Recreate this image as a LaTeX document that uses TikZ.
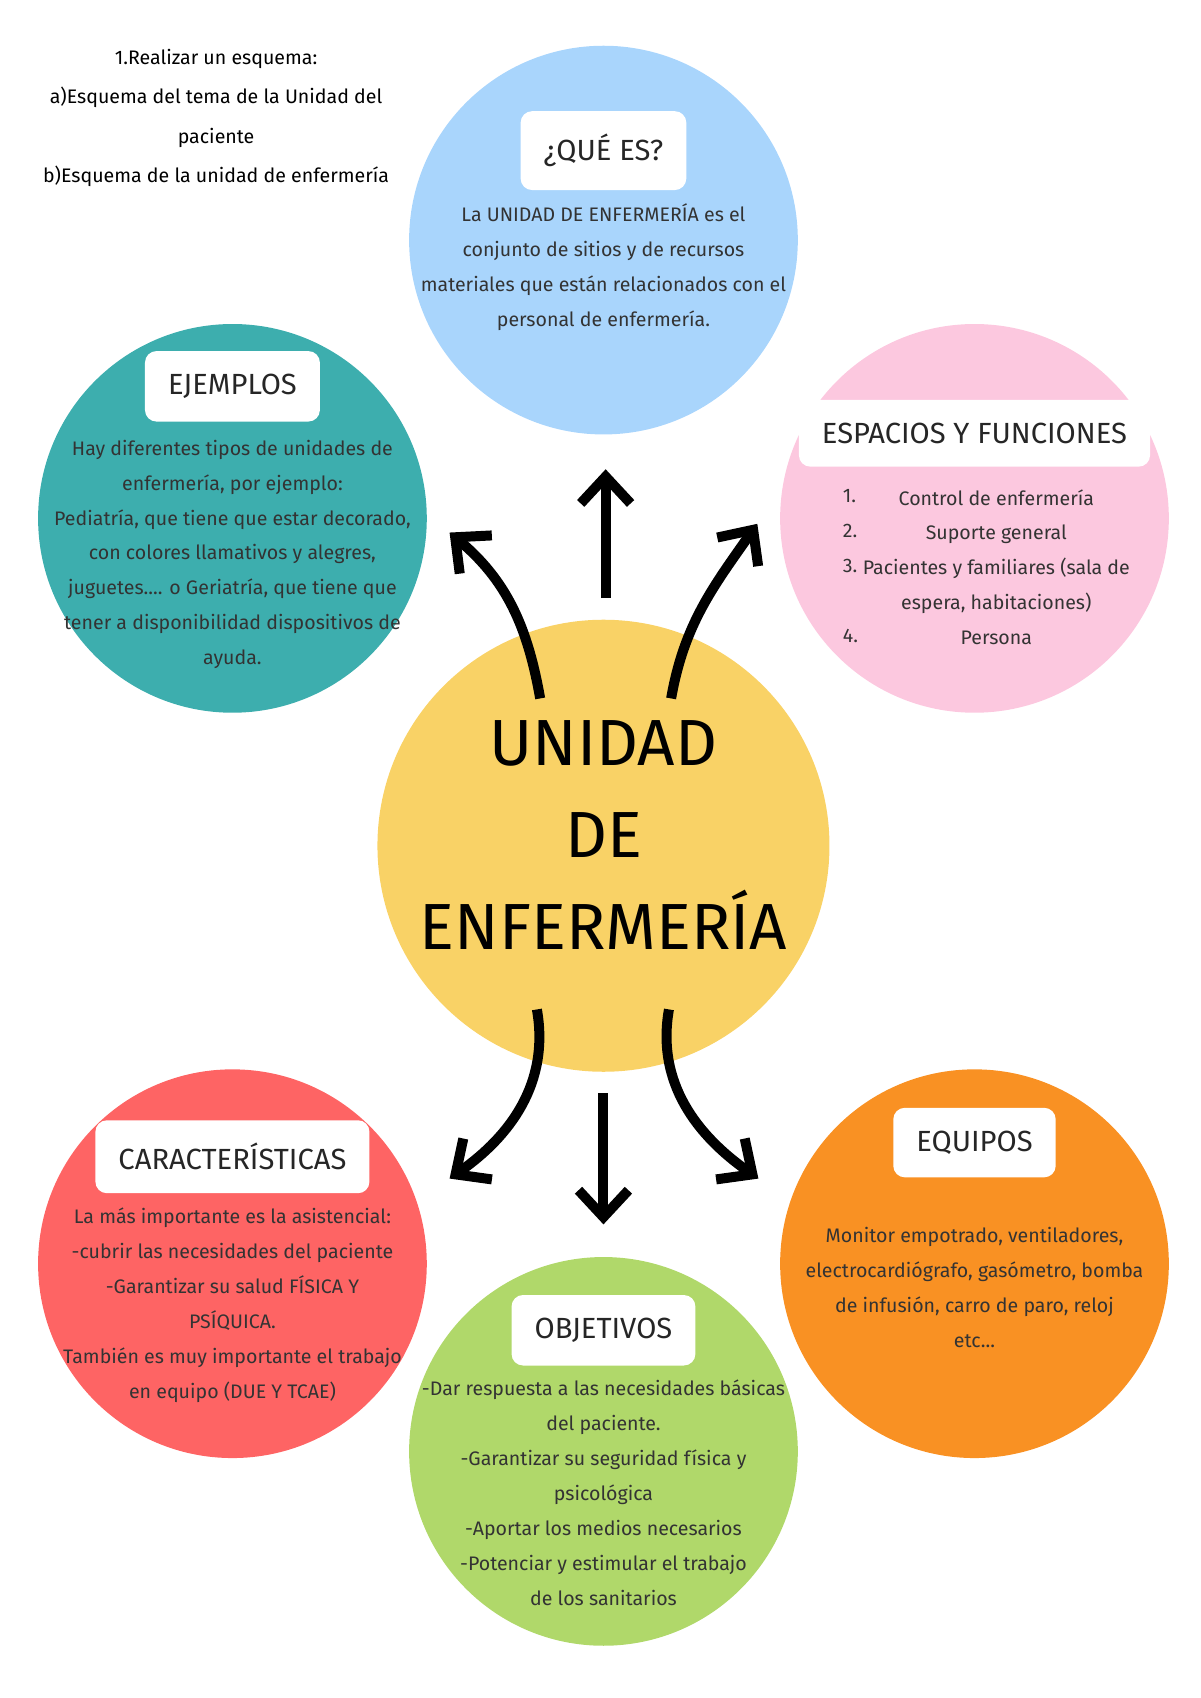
\documentclass[tikz,border=0pt]{standalone}
\usepackage{fontspec}
\setmainfont{Fira Sans}
\usetikzlibrary{arrows.meta}
\definecolor{cblue}{HTML}{A9D5FC}
\definecolor{cpink}{HTML}{FCC8DF}
\definecolor{cteal}{HTML}{3DAEAE}
\definecolor{cyell}{HTML}{F9D266}
\definecolor{cred}{HTML}{FE6464}
\definecolor{corange}{HTML}{F99123}
\definecolor{cgreen}{HTML}{B0D86A}
\tikzset{
  bubble/.style={circle, draw=none, minimum size=3.56cm},
  tag/.style={fill=white, rounded corners=3pt, inner xsep=6pt, inner ysep=6pt, font=\fontsize{7.6}{9}\selectfont\color{black!85}},
  body/.style={align=center, font=\fontsize{5.1}{9.1}\selectfont\color{black!80}},
  link/.style={line width=2.6pt, -{Straight Barb[length=7pt,width=13pt,line width=2.6pt]}}
}
\begin{document}
\begin{tikzpicture}[x=0.01cm,y=-0.01cm]
\useasboundingbox (0,0) rectangle (1100,1556);
% circles
\node[bubble, fill=cblue] (que) at (553,220) {};
\node[bubble, fill=cpink] (esp) at (893,475) {};
\node[bubble, fill=cteal] (ejem) at (213,475) {};
\node[bubble, fill=cyell, minimum size=4.14cm] (uni) at (553,775) {};
\node[bubble, fill=cred] (car) at (213,1158) {};
\node[bubble, fill=corange] (equ) at (893,1158) {};
\node[bubble, fill=cgreen] (obj) at (553,1330) {};
%
\node[align=center, font=\fontsize{5.1}{10.3}\selectfont] (task) at (198,108) {1.Realizar un esquema:\\a)Esquema del tema de la Unidad del\\paciente\\b)Esquema de la unidad de enfermería};
%
\node[align=center, font=\fontsize{17}{24}\selectfont] (unit) at (553,765) {UNIDAD\\DE\\ENFERMERÍA};
%
\node[tag] (queT) at (553,138) {¿QUÉ ES?};
\node[body] (queB) at (553,245) {La UNIDAD DE ENFERMERÍA es el\\conjunto de sitios y de recursos\\materiales que están relacionados con el\\personal de enfermería.};
%
\node[tag] (espT) at (893,397) {ESPACIOS Y FUNCIONES};
\node[body, anchor=north west, align=left] (espN) at (760,436) {1.\\2.\\3.\\\\4.};
\node[body, anchor=north] (espB) at (913,436) {Control de enfermería\\Suporte general\\Pacientes y familiares (sala de\\espera, habitaciones)\\Persona};
%
\node[tag] (ejemT) at (213,354) {EJEMPLOS};
\node[body] (ejemB) at (213,508) {Hay diferentes tipos de unidades de\\enfermería, por ejemplo:\\Pediatría, que tiene que estar decorado,\\con colores llamativos y alegres,\\juguetes.... o Geriatría, que tiene que\\tener a disponibilidad dispositivos de\\ayuda.};
%
\node[tag] (carT) at (213,1060) {CARACTERÍSTICAS};
\node[body] (carB) at (213,1196) {La más importante es la asistencial:\\-cubrir las necesidades del paciente\\-Garantizar su salud FÍSICA Y\\PSÍQUICA.\\También es muy importante el trabajo\\en equipo (DUE Y TCAE)};
%
\node[tag] (equT) at (893,1047) {EQUIPOS};
\node[body] (equB) at (893,1180) {Monitor empotrado, ventiladores,\\electrocardiógrafo, gasómetro, bomba\\de infusión, carro de paro, reloj\\etc...};
%
\node[tag] (objT) at (553,1219) {OBJETIVOS};
\node[body] (objB) at (553,1368) {-Dar respuesta a las necesidades básicas\\del paciente.\\-Garantizar su seguridad física y\\psicológica\\-Aportar los medios necesarios\\-Potenciar y estimular el trabajo\\de los sanitarios};
% arrows
\coordinate (a1) at (555,548); \coordinate (b1) at (555,430);
\coordinate (a2) at (495,640); \coordinate (b2) at (412,488);
\coordinate (a3) at (615,640); \coordinate (b3) at (694,480);
\coordinate (a4) at (553,1002); \coordinate (b4) at (553,1122);
\coordinate (a5) at (492,925); \coordinate (b5) at (412,1080);
\coordinate (a6) at (613,925); \coordinate (b6) at (695,1080);
\draw[link] (a1) -- (b1);
\draw[link] (a2) to[out=100,in=-40] (b2);
\draw[link] (a3) to[out=80,in=-125] (b3);
\draw[link] (a4) -- (b4);
\draw[link] (a5) to[out=-80,in=35] (b5);
\draw[link] (a6) to[out=-100,in=145] (b6);
\end{tikzpicture}
\end{document}
